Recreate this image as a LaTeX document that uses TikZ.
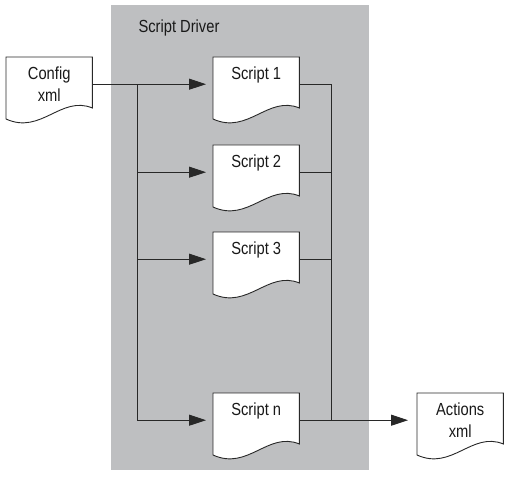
\documentclass[tikz,border=0pt]{standalone}
\usepackage{fontspec}
\setmainfont{Liberation Sans}[FakeStretch=0.84]
\usepackage{tikz}
\usetikzlibrary{arrows.meta,calc}
\pgfdeclarelayer{background}
\pgfdeclarelayer{paper}
\pgfsetlayers{background,paper,main}
\definecolor{drivergray}{RGB}{190,191,193}
\definecolor{inkline}{RGB}{40,40,40}
\tikzset{
  txt/.style={font=\fontsize{17.5bp}{21.5bp}\selectfont, text=black!90},
  driverbox/.style={fill=drivergray, anchor=north west, inner sep=0pt,
    minimum width=258bp, minimum height=465bp},
  doc/.style={txt, anchor=north west, inner sep=0pt, minimum width=86bp,
    minimum height=54bp, align=center},
  script/.style={doc, text height=22bp, text depth=32bp},
  paper/.style={draw=inkline, fill=white, line width=0.9bp},
  wire/.style={draw=inkline, line width=0.9bp},
  flow/.style={wire, -{Triangle[length=17bp,width=11bp]}, shorten >=7bp},
}

\begin{document}
\begin{tikzpicture}[x=1bp,y=-1bp]
            \useasboundingbox (0,0) rectangle (511,481);

                % driver area
                \begin{pgfonlayer}{background}
                \node[driverbox] (driver) at (111,5) {};
                \end{pgfonlayer}
                \node[txt] (drivertitle) at (179,28) {Script Driver};

                \node[doc] (config) at (6,57) {Config\\xml};
                \node[script] (s1) at (213,57) {Script 1};
                \node[script] (s2) at (213,145) {Script 2};
                \node[script] (s3) at (213,232) {Script 3};
                \node[script] (sn) at (213,393) {Script n};
                \node[doc] (actions) at (417,393) {Actions\\xml};

                % paper sheets with wavy bottom
                \begin{pgfonlayer}{paper}
                \foreach \d in {config,s1,s2,s3,sn,actions}
                    \draw[paper] (\d.north west) -- (\d.north east) -- ($(\d.north east)+(0,51)$)
                        .. controls ($(\d.north west)+(55,38)$) and ($(\d.north west)+(35,78)$) .. ($(\d.north west)+(0,62)$) -- cycle;
                \end{pgfonlayer}

                \coordinate (busl) at (137,0);
                \coordinate (busr) at (331,0);

                \draw[flow] (config.east) -- (s1.west);
                \draw[wire] (busl |- config.east) -- (busl |- sn.west);
                \foreach \s in {s2,s3,sn}
                    \draw[flow] (busl |- \s.west) -- (\s.west);

                \draw[wire] (s1.east) -- (busr |- s1.east) -- (busr |- sn.east);
                \foreach \s in {s2,s3}
                    \draw[wire] (\s.east) -- (busr |- \s.east);
                \draw[flow, shorten >=9bp] (sn.east) -- (actions.west);

            \end{tikzpicture}
\end{document}
